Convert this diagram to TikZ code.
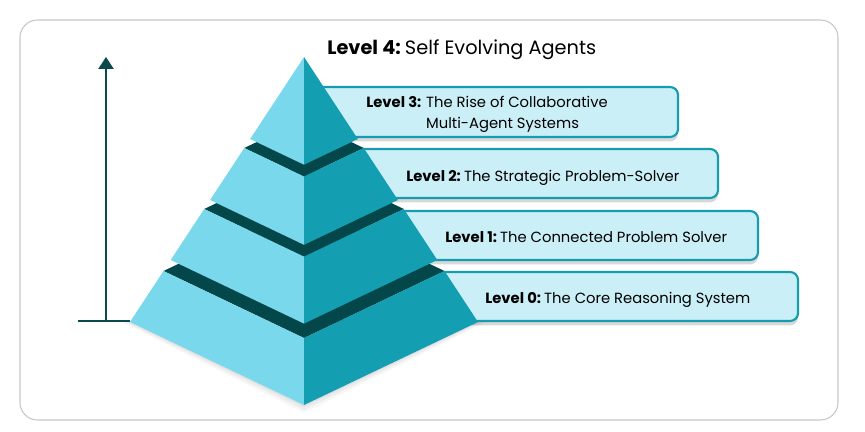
\documentclass[tikz,border=0pt]{standalone}
\usepackage{fontspec}
\setmainfont{Poppins}
\usetikzlibrary{arrows.meta, shadows}

\definecolor{pyrlight}{HTML}{79D8EC}
\definecolor{pyrdark}{HTML}{139FB1}
\definecolor{pyrtop}{HTML}{04474B}
\definecolor{boxfill}{HTML}{CBEFF7}
\definecolor{boxline}{HTML}{169CB0}
\definecolor{axiscol}{HTML}{0A4A4E}
\definecolor{framecol}{HTML}{C6C6CA}

% one slice of the pyramid, top and bottom y of its left corner
\newcommand{\pyrslice}[2]{%
  \pgfmathsetmacro{\hwt}{0.6566*(#1-57)}
  \pgfmathsetmacro{\hwb}{0.6566*(#2-57)}
  \pgfmathsetmacro{\ft}{0.477*\hwt}
  \pgfmathsetmacro{\fb}{0.477*\hwb}
  \fill[pyrtop] ({304-\hwt},#1) -- (304,{#1+\ft}) -- ({304+\hwt},#1) -- (304,{#1-\ft}) -- cycle;
  \fill[pyrlight] ({304-\hwt},#1) -- (304,{#1+\ft}) -- (304,{#2+\fb}) -- ({304-\hwb},#2) -- cycle;
  \fill[pyrdark] ({304+\hwt},#1) -- (304,{#1+\ft}) -- (304,{#2+\fb}) -- ({304+\hwb},#2) -- cycle;
}

\tikzset{
  levelbox/.style={draw=boxline, fill=boxfill, line width=1.2pt, rounded corners=4.5pt,
    drop shadow={shadow xshift=0pt, shadow yshift=-2.5pt, opacity=0.22, fill=black!70}},
  leveltext/.style={anchor=base west, inner sep=0pt, font=\fontsize{8.4}{10}\selectfont},
  titletext/.style={anchor=base west, inner sep=0pt, font=\fontsize{11}{13}\selectfont},
}

\begin{document}
\begin{tikzpicture}[x=0.02cm, y=-0.02cm]
\useasboundingbox (0,0) rectangle (865,432);
\draw[framecol, line width=0.6pt, rounded corners=10pt] (20,20) rectangle (838,420);

% axis
\coordinate (axisbase) at (106,321);
\coordinate (axistop) at (106,57);
\coordinate (baseleft) at (78,321);
\coordinate (baseright) at (130,321);
\draw[axiscol, line width=1.5pt] (baseleft) -- (baseright);
\draw[axiscol, line width=1.5pt, -{Triangle[width=8.5pt,length=6.8pt]}] (axisbase) -- (axistop);

% boxes behind the pyramid
\draw[levelbox] (300,272) rectangle (798,321);
\draw[levelbox] (300,211) rectangle (758,260);
\draw[levelbox] (300,149) rectangle (718,198);
\draw[levelbox] (300,87) rectangle (678,137);

% soft shadow under the pyramid
\foreach \s/\o in {8/0.03, 5/0.04, 2/0.05}
  \fill[black, opacity=\o] ({130-\s},322) -- (304,{405+\s}) -- ({478+\s},322) -- cycle;

% pyramid, bottom slice first
\pyrslice{271}{322}
\pyrslice{209}{260}
\pyrslice{148}{200}
\pyrslice{57}{139}

% texts
\node[titletext] (lvl4) at (327,55) {\bfseries Level 4:\ \mdseries Self Evolving Agents};
\node[leveltext] (lvl3head) at (366,108) {\bfseries Level 3:};
\node[leveltext] (lvl3) at ([xshift=2.3pt]lvl3head.base east) {The Rise of Collaborative};
\coordinate (row3b) at (0,129);
\node[leveltext] (lvl3more) at (lvl3.base west |- row3b) {Multi-Agent Systems};
\node[leveltext] (lvl2) at (406,182) {\bfseries Level 2:\ \mdseries The Strategic Problem-Solver};
\node[leveltext] (lvl1) at (445,242) {\bfseries Level 1:\ \mdseries The Connected Problem Solver};
\node[leveltext] (lvl0) at (485,303) {\bfseries Level 0:\ \mdseries The Core Reasoning System};
\end{tikzpicture}
\end{document}
